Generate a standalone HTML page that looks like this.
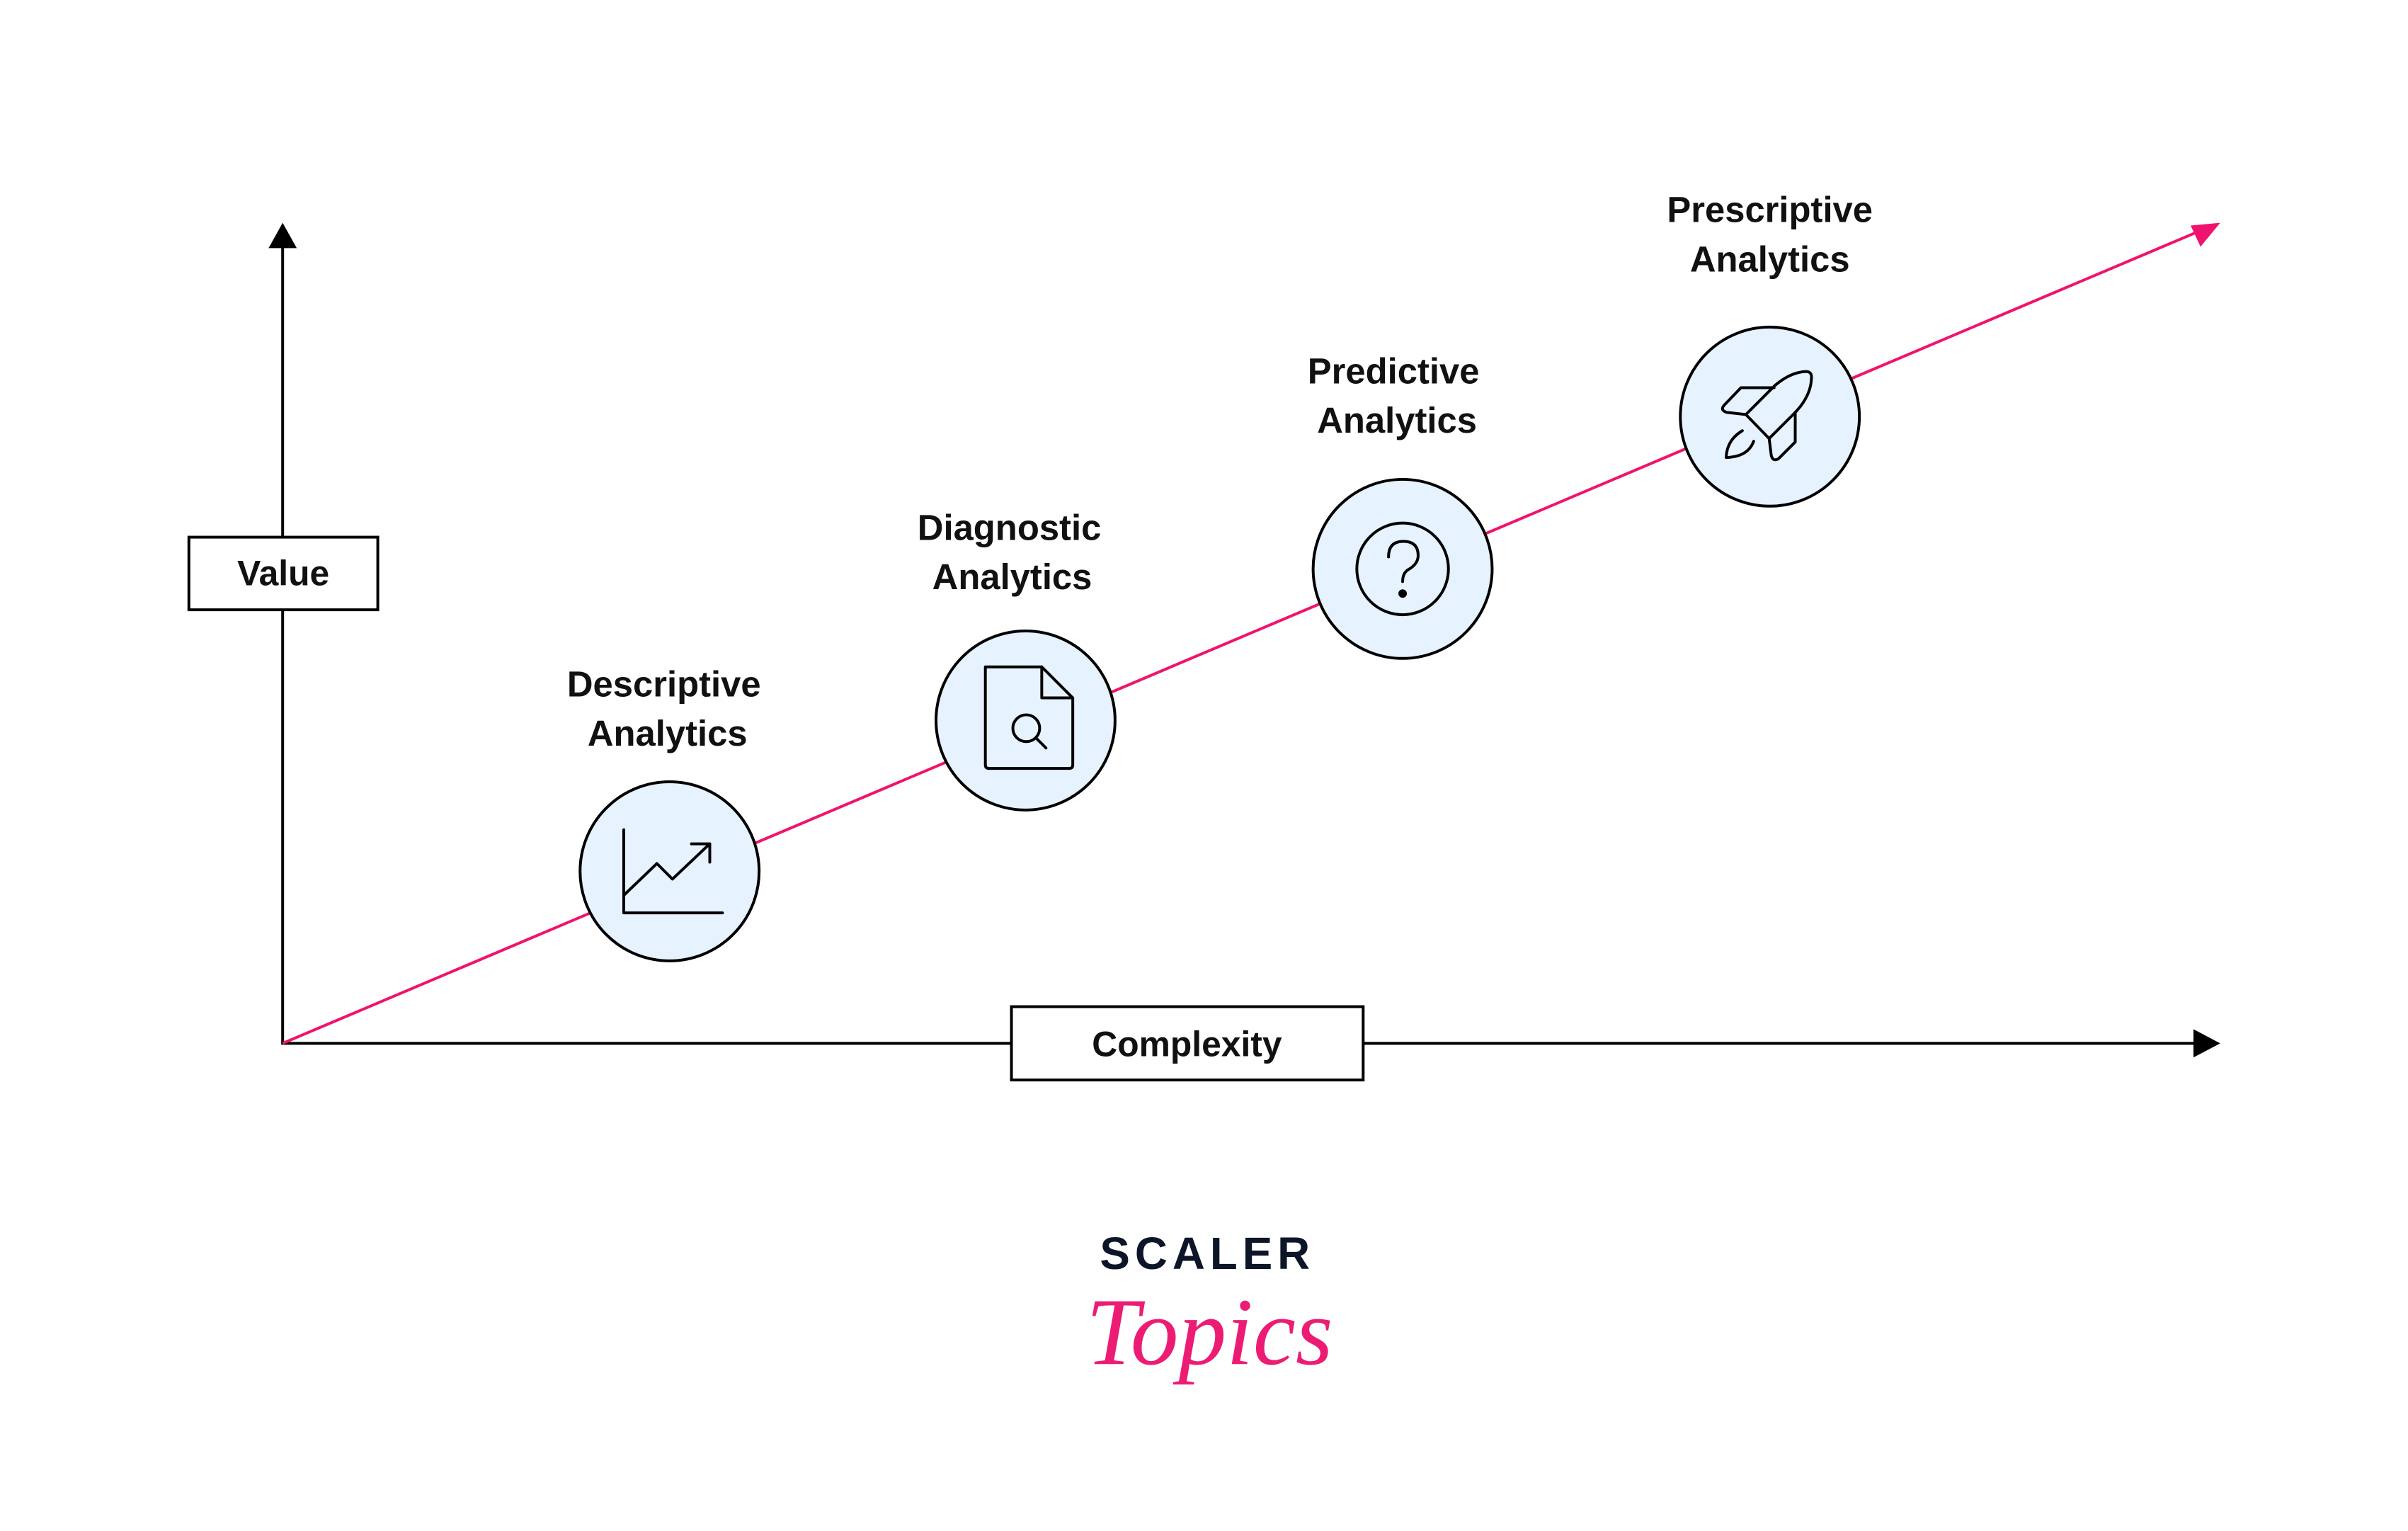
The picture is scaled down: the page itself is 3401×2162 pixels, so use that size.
<!DOCTYPE html>
<html><head><meta charset="utf-8"><style>
html,body{margin:0;padding:0;background:#fff;}
svg{display:block;}
text{font-family:"Liberation Sans",sans-serif;font-weight:bold;fill:#111;}
</style></head><body>
<svg width="3401" height="2162" viewBox="0 0 3401 2162" xmlns="http://www.w3.org/2000/svg">
<rect width="3401" height="2162" fill="#fff"/>
<g transform="scale(0.9955)">
<line x1="401" y1="350" x2="401" y2="1480" stroke="#000" stroke-width="4"/>
<polygon points="401,316 381,352 421,352" fill="#000"/>
<line x1="399" y1="1480" x2="3115" y2="1480" stroke="#000" stroke-width="4"/>
<polygon points="3150,1480 3112,1460 3112,1500" fill="#000"/>
<line x1="401" y1="1480" x2="3120" y2="328" stroke="#f0136d" stroke-width="4"/>
<polygon points="3150,316 3108,320 3122,350" fill="#f0136d"/>
<rect x="268" y="762" width="268" height="103" fill="#fff" stroke="#000" stroke-width="4"/>
<text x="402" y="830" font-size="50" text-anchor="middle">Value</text>
<rect x="1435" y="1428" width="499" height="104" fill="#fff" stroke="#000" stroke-width="4"/>
<text x="1684" y="1498" font-size="50" text-anchor="middle">Complexity</text>
<g fill="#e6f2fd" stroke="#000" stroke-width="4">
<circle cx="950" cy="1236" r="127"/>
<circle cx="1455" cy="1022" r="127"/>
<circle cx="1990" cy="807" r="127"/>
<circle cx="2511" cy="591" r="127"/>
</g>
<g fill="none" stroke="#000" stroke-width="4" stroke-linecap="round" stroke-linejoin="round">
<polyline points="885,1177 885,1295 1025,1295"/>
<polyline points="885,1270 932,1225 954,1247 1007,1197"/>
<polyline points="981,1197 1007,1197 1007,1223"/>
<path d="M1398,946 H1478 L1522,990 V1085 Q1522,1090 1517,1090 H1403 Q1398,1090 1398,1085 Z"/>
<polyline points="1478,946 1478,990 1522,990"/>
<circle cx="1456" cy="1033" r="19"/>
<line x1="1470" y1="1047" x2="1484" y2="1061"/>
<circle cx="1990" cy="807" r="65"/>
<path d="M1970,790 Q1970,768 1991,768 Q2012,768 2012,788 Q2012,800 1998,808 Q1990,813 1990,825"/>
<g transform="translate(10,0)">
<path d="M2467,588 L2508,547 Q2530,528 2552,527 Q2561,527 2560,537 Q2559,562 2537,585 L2500,622 Z"/>
<path d="M2467,588 L2440,585 Q2430,582 2436,575 L2460,550 H2507"/>
<path d="M2537,585 V627 L2513,651 Q2505,655 2503,646 L2500,622"/>
<path d="M2462,611 Q2440,624 2439,649 Q2470,648 2478,626"/>
</g>
</g>
<circle cx="1990" cy="842" r="6" fill="#000"/>
<g font-size="51" text-anchor="middle">
<text x="942" y="988">Descriptive</text><text x="947" y="1058">Analytics</text>
<text x="1432" y="766">Diagnostic</text><text x="1436" y="836">Analytics</text>
<text x="1977" y="544">Predictive</text><text x="1982" y="614">Analytics</text>
<text x="2511" y="315">Prescriptive</text><text x="2511" y="385">Analytics</text>
</g>
<text x="1713" y="1800" font-size="64" text-anchor="middle" letter-spacing="7" style="fill:#0d1628">SCALER</text>
<text x="1716" y="1935" font-size="136" text-anchor="middle" font-style="italic" style="font-family:'Liberation Serif',serif;font-weight:normal;fill:#ec1c74">Topics</text>
</g>
</svg>
</body></html>
